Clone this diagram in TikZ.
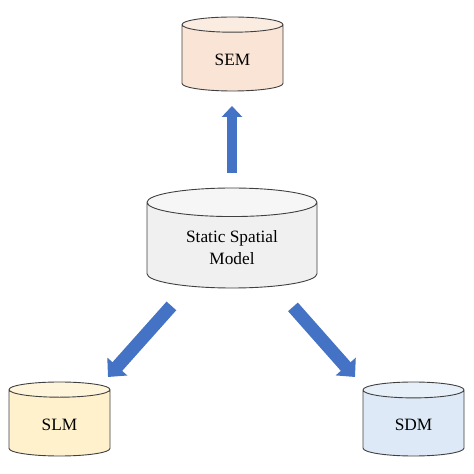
\documentclass[tikz,border=0pt]{standalone}
\usepackage{fontspec}
\setmainfont{Liberation Serif}
\usetikzlibrary{shapes.geometric,arrows.meta,calc,positioning}
\definecolor{arrowblue}{RGB}{68,114,196}
\definecolor{semfill}{RGB}{249,228,214}
\definecolor{slmfill}{RGB}{254,241,204}
\definecolor{sdmfill}{RGB}{221,233,246}
\definecolor{mainfill}{RGB}{240,240,240}
\definecolor{edgegray}{RGB}{64,64,64}
\tikzset{
    x=1pt,y=1pt,
    db/.style ={cylinder, shape border rotate=90, draw=edgegray, line width=0.9pt,
        minimum width=101pt, minimum height=74pt, aspect=0.36, anchor=shape center,
        cylinder uses custom fill, align=center,
        font=\fontsize{17.3}{22}\selectfont},
    bigarrow/.style = {draw=arrowblue, line width=13pt,
        -{Triangle[width=26pt,length=14pt,fill=arrowblue]}},
    smallarrow/.style = {bigarrow, line width=10pt,
        -{Triangle[width=20pt,length=11pt,fill=arrowblue]}}
}
\begin{document}
\begin{tikzpicture}
    \useasboundingbox (0,0) rectangle (474,474);
    \node[db, minimum width=170pt, minimum height=100pt, aspect=0.29,
        cylinder body fill=mainfill, cylinder end fill=mainfill!60] (main) at (232,236) {Static Spatial\\Model};
    \node[db, cylinder body fill=semfill, cylinder end fill=semfill!70] (sem) at (232.5,420) {SEM};
    \node[db, cylinder body fill=slmfill, cylinder end fill=slmfill!70] (slm) at (59.5,55) {SLM};
    \node[db, cylinder body fill=sdmfill, cylinder end fill=sdmfill!70] (sdm) at (413.5,55) {SDM};

    \coordinate (slmtip) at ($(slm.shape center)+(48.5,42)$);
    \coordinate (sdmtip) at ($(sdm.shape center)+(-58.5,42)$);
    \coordinate (semtip) at ($(sem.shape center)+(-0.5,-52)$);

    \draw[smallarrow, shorten <=65pt] (main.shape center) -- (semtip);
    \draw[bigarrow, shorten <=91pt] (main.shape center) -- (slmtip);
    \draw[bigarrow, shorten <=92pt] (main.shape center) -- (sdmtip);
\end{tikzpicture}
\end{document}
